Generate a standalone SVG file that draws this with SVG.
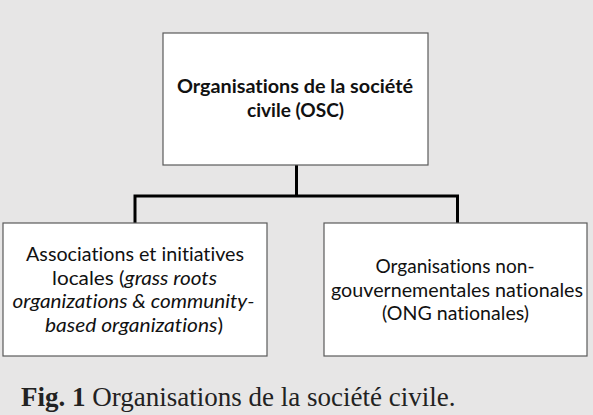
<svg xmlns="http://www.w3.org/2000/svg" width="593" height="415" viewBox="0 0 593 415">
<style>
.box{fill:#ffffff;stroke:#5a5a5a;stroke-width:1.2}
.t{font-family:Lato,"Open Sans","Liberation Sans",sans-serif;font-size:19.5px;fill:#111;text-anchor:middle;font-variant-ligatures:none}
.b{font-weight:bold}
.conn{fill:none;stroke:#000;stroke-width:3;stroke-linejoin:miter}
.cap{font-family:"Liberation Serif","Times New Roman",serif;font-size:27px;fill:#222}
</style>
<rect x="0" y="0" width="593" height="415" fill="#e7e6e6"/>
<g id="connectors">
<path class="conn" d="M296.5,165 V196 M135,223 V196 H457.5 V223"/>
</g>
<g id="node-osc">
<rect class="box" x="163" y="33" width="265" height="132"/>
<text class="t b" x="295" y="93" textLength="236" lengthAdjust="spacingAndGlyphs">Organisations de la société</text>
<text class="t b" x="295.5" y="117" textLength="97" lengthAdjust="spacingAndGlyphs">civile (OSC)</text>
</g>
<g id="node-associations">
<rect class="box" x="3" y="223" width="264" height="133"/>
<text class="t" x="135" y="261" textLength="218" lengthAdjust="spacingAndGlyphs">Associations et initiatives</text>
<text class="t" x="134.5" y="285" textLength="165" lengthAdjust="spacingAndGlyphs">locales (<tspan font-style="italic">grass roots</tspan></text>
<text class="t" x="133.5" y="308" font-style="italic" textLength="242" lengthAdjust="spacingAndGlyphs">organizations &amp; community-</text>
<text class="t" x="134" y="332" textLength="178" lengthAdjust="spacingAndGlyphs"><tspan font-style="italic">based organizations</tspan>)</text>
</g>
<g id="node-ong">
<rect class="box" x="324" y="223" width="263" height="133"/>
<text class="t" x="455" y="273" textLength="159" lengthAdjust="spacingAndGlyphs">Organisations non-</text>
<text class="t" x="457" y="297" textLength="252" lengthAdjust="spacingAndGlyphs">gouvernementales nationales</text>
<text class="t" x="455.5" y="320" textLength="147" lengthAdjust="spacingAndGlyphs">(ONG nationales)</text>
</g>
<text class="cap" x="21" y="406"><tspan font-weight="bold">Fig. 1</tspan> Organisations de la société civile.</text>
</svg>
